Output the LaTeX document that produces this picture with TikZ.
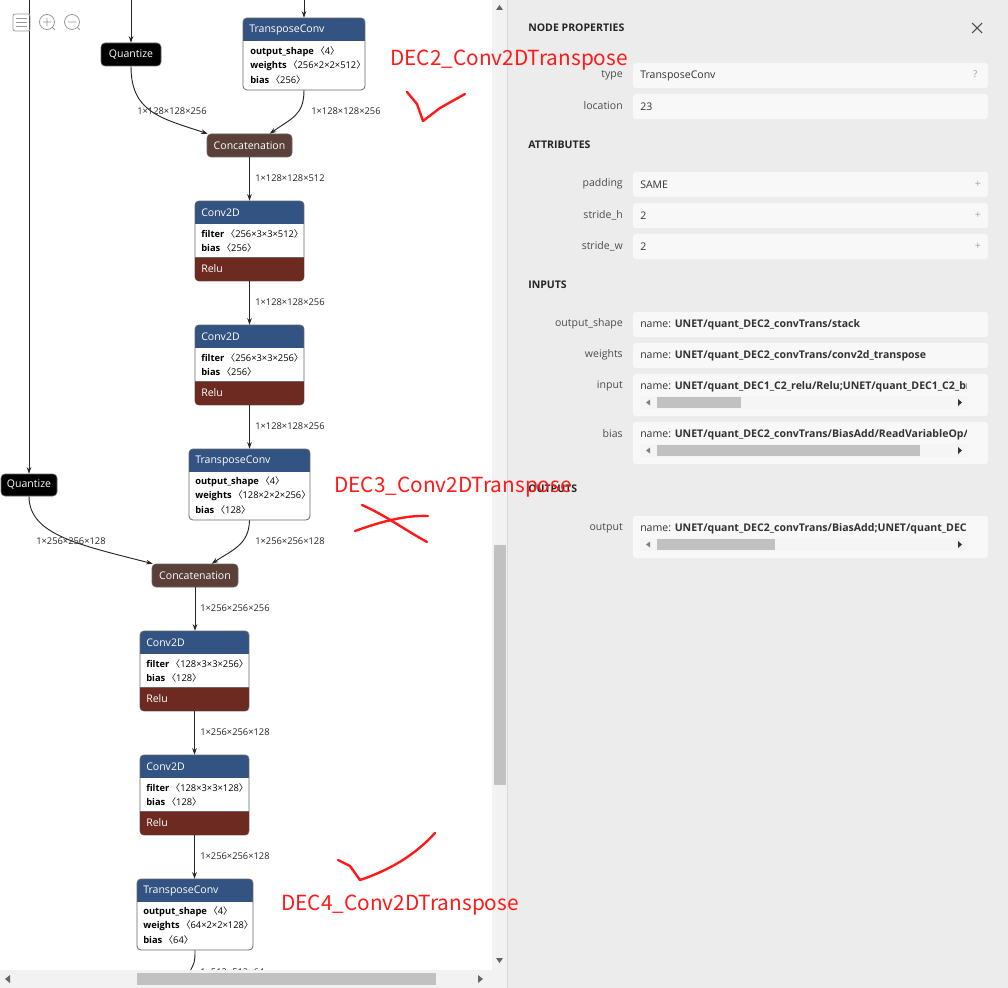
\documentclass[tikz,border=0pt]{standalone}
\usepackage{fontspec}
\setmainfont{Open Sans}
\newfontfamily\cjk{Noto Sans CJK SC}
\usetikzlibrary{arrows.meta,calc,fit}
\definecolor{hdr}{HTML}{335383}
\definecolor{relu}{HTML}{6C2A20}
\definecolor{cat}{HTML}{5A4038}
\definecolor{panel}{HTML}{ECECEC}
\definecolor{fld}{HTML}{F8F8F8}
\definecolor{thumb}{HTML}{C1C1C1}
\definecolor{redmark}{HTML}{FF1A1A}
\tikzset{
  x=0.75pt,y=-0.75pt,
  edge/.style={draw=black!85,line width=0.7pt,-{Stealth[length=5pt,width=3.5pt]}},
  lbl/.style={anchor=west,font=\fontsize{7}{9}\selectfont,text=black!85,inner sep=0},
  ttl/.style={anchor=west,font=\fontsize{7.9}{10}\selectfont,text=white,inner sep=0},
  att/.style={anchor=west,font=\fontsize{7}{9}\selectfont,text=black,inner sep=0},
  dark/.style={rounded corners=3pt,draw=black!60,line width=0.6pt},
  plab/.style={anchor=east,font=\fontsize{7.9}{10}\selectfont,text=black!70,inner sep=0},
  pval/.style={anchor=west,font=\fontsize{7.9}{10}\selectfont,text=black!80,inner sep=0},
  phead/.style={anchor=west,font=\fontsize{7.9}{10}\selectfont\bfseries,text=black!85,inner sep=0},
  redtxt/.style={anchor=west,font=\cjk\fontsize{15.6}{18}\selectfont,text=redmark,inner sep=0},
  redline/.style={draw=redmark,line width=1.8pt,line cap=round,line join=round},
}
\newcommand\br[1]{{\cjk 〈}#1{\cjk 〉}}
\newcommand\at[2]{{\bfseries #1}\,\br{#2}}
% name x1 y1 x2 y2 title
\newcommand\opbox[6]{%
  \begin{scope}
    \clip[rounded corners=3pt] (#2,#3) rectangle (#4,#5);
    \fill[white] (#2,#3) rectangle (#4,#5);
    \fill[hdr] (#2,#3) rectangle (#4,#3+23);
  \end{scope}
  \draw[dark] (#2,#3) rectangle (#4,#5);
  \node[fit={(#2,#3)(#4,#5)},inner sep=0] (#1) {};
  \node[ttl] at (#2+6,#3+12) {#6};}
\newcommand\relubar[4]{% x1 x2 y2 
  \begin{scope}
    \clip[rounded corners=3pt] (#1,#3-40) rectangle (#2,#3);
    \fill[relu] (#1,#3-24) rectangle (#2,#3);
  \end{scope}
  \draw[dark] (#1,#3-24) -- (#2,#3-24);
  \node[ttl] at (#1+6,#3-12) {#4};}
\newcommand\field[3]{\fill[fld,rounded corners=2pt] (633,#1) rectangle (988,#2);}
\newcommand\hscroll[3]{% y thumbx1 thumbx2
  \fill[black!4] (640,#1) rectangle (968,#1+13);
  \fill[thumb] (#2,#1+1) rectangle (#3,#1+12);
  \fill[black!50] (646,#1+6.5)--(650,#1+3.5)--(650,#1+9.5)--cycle;
  \fill[black!80] (962,#1+6.5)--(958,#1+3)--(958,#1+10)--cycle;}
\begin{document}
\begin{tikzpicture}
\useasboundingbox (0,0) rectangle (1008,988);
\fill[white] (0,0) rectangle (492,988);
% ---------- graph ----------
\coordinate (t1) at (29,0);
\coordinate (t2) at (131,0);
\coordinate (t3) at (304,0);
\node[fill=black,rounded corners=3pt,draw=black!60,minimum width=60*0.75pt,minimum height=23*0.75pt,
  font=\fontsize{7.9}{10}\selectfont,text=white,inner sep=0] (q1) at (131,54.5) {Quantize};
\node[fill=black,rounded corners=3pt,draw=black!60,minimum width=56*0.75pt,minimum height=22*0.75pt,
  font=\fontsize{7.9}{10}\selectfont,text=white,inner sep=0] (q2) at (29,485) {Quantize};
\opbox{tc1}{243}{18}{365}{90}{TransposeConv}
\node[att] at (250,52) {\at{output\_shape}{4}};
\node[att] at (250,66) {\at{weights}{256×2×2×512}};
\node[att] at (250,80) {\at{bias}{256}};
\node[fill=cat,rounded corners=3pt,draw=black!60,minimum width=85*0.75pt,minimum height=23*0.75pt,
  font=\fontsize{7.9}{10}\selectfont,text=white,inner sep=0] (c1) at (249.5,145.5) {Concatenation};
\opbox{cv1}{195}{201}{304}{281}{Conv2D}
\node[att] at (201,234) {\at{filter}{256×3×3×512}};
\node[att] at (201,248) {\at{bias}{256}};
\relubar{195}{304}{281}{Relu}
\opbox{cv2}{195}{325}{304}{405}{Conv2D}
\node[att] at (201,358) {\at{filter}{256×3×3×256}};
\node[att] at (201,372) {\at{bias}{256}};
\relubar{195}{304}{405}{Relu}
\opbox{tc2}{189}{449}{310}{520}{TransposeConv}
\node[att] at (195,482) {\at{output\_shape}{4}};
\node[att] at (195,496) {\at{weights}{128×2×2×256}};
\node[att] at (195,510) {\at{bias}{128}};
\node[fill=cat,rounded corners=3pt,draw=black!60,minimum width=86*0.75pt,minimum height=23*0.75pt,
  font=\fontsize{7.9}{10}\selectfont,text=white,inner sep=0] (c2) at (195,575.5) {Concatenation};
\opbox{cv3}{140}{631}{249}{711}{Conv2D}
\node[att] at (146,664) {\at{filter}{128×3×3×256}};
\node[att] at (146,678) {\at{bias}{128}};
\relubar{140}{249}{711}{Relu}
\opbox{cv4}{140}{755}{249}{835}{Conv2D}
\node[att] at (146,788) {\at{filter}{128×3×3×128}};
\node[att] at (146,802) {\at{bias}{128}};
\relubar{140}{249}{835}{Relu}
\opbox{tc3}{137}{879}{253}{950}{TransposeConv}
\node[att] at (143,912) {\at{output\_shape}{4}};
\node[att] at (143,926) {\at{weights}{64×2×2×128}};
\node[att] at (143,940) {\at{bias}{64}};
% edges
\draw[edge] (t1) -- (q2.north);
\draw[edge] (t2) -- (q1.north);
\draw[edge] (t3) -- (tc1.north -| t3);
\draw[edge] (q1.south) .. controls (131,112) and (160,118) .. ($(c1.north west)+(1,0)$);
\draw[edge] (tc1.south -| t3) .. controls (304,115) and (292,118) .. ($(c1.north west)+(63,0)$);
\draw[edge] (c1.south) -- (cv1.north -| c1.south);
\draw[edge] (cv1.south) -- (cv2.north);
\draw[edge] (cv2.south) -- (cv2.south |- tc2.north);
\draw[edge] (q2.south) .. controls (29,535) and (80,545) .. ($(c2.north west)+(1,0)$);
\draw[edge] (tc2.south) .. controls (249,545) and (232,550) .. ($(c2.north west)+(60,0)$);
\draw[edge] (c2.south) -- (cv3.north -| c2.south);
\draw[edge] (cv3.south) -- (cv4.north);
\draw[edge] (cv4.south) -- (cv4.south |- tc3.north);
\coordinate (bend) at (188,975);
\draw[draw=black!85,line width=0.7pt] (tc3.south -| 195,0) .. controls (195,962) .. (bend);
% labels
\node[lbl] at (137,111) {1×128×128×256};
\node[lbl] at (311,111) {1×128×128×256};
\node[lbl] at (255,178) {1×128×128×512};
\node[lbl] at (255,302) {1×128×128×256};
\node[lbl] at (255,426) {1×128×128×256};
\node[lbl] at (36,541) {1×256×256×128};
\node[lbl] at (255,541) {1×256×256×128};
\node[lbl] at (200,608) {1×256×256×256};
\node[lbl] at (200,732) {1×256×256×128};
\node[lbl] at (200,856) {1×256×256×128};
\node[lbl] at (200,972) {1×512×512×64};
% toolbar icons
\draw[black!40,rounded corners=1.5pt,line width=0.6pt] (13,14) rectangle (30,31);
\foreach \yy in {18,22,26} \draw[black!40,line width=0.6pt] (16,\yy) -- (27,\yy);
\draw[black!40,line width=0.6pt] (47,22) circle (7.5) (43,22)--(51,22) (47,18)--(47,26) (52.5,27.5)--(55,30);
\draw[black!40,line width=0.6pt] (72,22) circle (7.5) (68,22)--(76,22) (77.5,27.5)--(80,30);
% scrollbars
\fill[black!5] (492,0) rectangle (507,970);
\fill[thumb] (494,545) rectangle (506,785);
\fill[black!60] (496,10)--(503,10)--(499.5,5)--cycle;
\fill[black!60] (496,958)--(503,958)--(499.5,963)--cycle;
\fill[black!5] (0,970) rectangle (507,988);
\fill[thumb] (137,973) rectangle (436,985);
\fill[black!60] (5,979)--(10,975)--(10,983)--cycle;
\fill[black!60] (483,979)--(478,975)--(478,983)--cycle;
% ---------- right panel ----------
\fill[panel] (508,0) rectangle (1008,988);
\draw[black!15] (507.5,0) -- (507.5,988);
\node[phead] at (528,28) {NODE PROPERTIES};
\draw[black!70,line width=0.8pt] (972,23)--(982,33) (982,23)--(972,33);
\field{63}{88}{} \node[plab] at (623,75) {type}; \node[pval] at (640,76) {TransposeConv};
\node[anchor=east,font=\fontsize{7}{8}\selectfont,text=black!40] at (982,74) {?};
\field{94}{119}{} \node[plab] at (623,106) {location}; \node[pval] at (640,107) {23};
\node[phead] at (528,145) {ATTRIBUTES};
\field{172}{197}{} \node[plab] at (623,184) {padding}; \node[pval] at (640,185) {SAME};
\field{203}{228}{} \node[plab] at (623,215) {stride\_h}; \node[pval] at (640,216) {2};
\field{234}{259}{} \node[plab] at (623,246) {stride\_w}; \node[pval] at (640,247) {2};
\foreach \yy in {184,215,246,324,355,386,434,528}
  \node[font=\fontsize{8}{8}\selectfont,text=black!35,inner sep=0] at (978,\yy) {+};
\node[phead] at (528,285) {INPUTS};
\field{312}{337}{} \node[plab] at (623,324) {output\_shape};
\node[pval] at (640,325) {name: \textbf{UNET/quant\_DEC2\_convTrans/stack}};
\field{343}{368}{} \node[plab] at (623,355) {weights};
\node[pval] at (640,356) {name: \textbf{UNET/quant\_DEC2\_convTrans/conv2d\_transpose}};
\field{374}{416}{} \node[plab] at (623,386) {input};
\begin{scope}\clip (638,378) rectangle (966,396);
\node[pval] at (640,387) {name: \textbf{UNET/quant\_DEC1\_C2\_relu/Relu;UNET/quant\_DEC1\_C2\_bn}};
\end{scope}
\hscroll{396}{657}{741}
\field{422}{464}{} \node[plab] at (623,434) {bias};
\begin{scope}\clip (638,426) rectangle (966,444);
\node[pval] at (640,435) {name: \textbf{UNET/quant\_DEC2\_convTrans/BiasAdd/ReadVariableOp/r}};
\end{scope}
\hscroll{444}{657}{920}
\node[phead] at (528,489) {OUTPUTS};
\field{516}{558}{} \node[plab] at (623,528) {output};
\begin{scope}\clip (638,520) rectangle (966,538);
\node[pval] at (640,529) {name: \textbf{UNET/quant\_DEC2\_convTrans/BiasAdd;UNET/quant\_DEC2}};
\end{scope}
\hscroll{538}{657}{775}
% ---------- red annotations ----------
\node[redtxt] at (390,60) {DEC2\_Conv2DTranspose};
\draw[redline] (407,92) -- (417,104) -- (423,121) -- (440,108) -- (465,94);
\node[redtxt] at (334,487) {DEC3\_Conv2DTranspose};
\draw[redline] (362,505) .. controls (385,515) and (405,530) .. (427,542);
\draw[redline] (355,531) .. controls (380,522) and (405,515) .. (428,516);
\node[redtxt] at (281,905) {DEC4\_Conv2DTranspose};
\draw[redline] (338,860) -- (350,866) -- (360,880) .. controls (390,870) and (415,855) .. (435,833);
\end{tikzpicture}
\end{document}
